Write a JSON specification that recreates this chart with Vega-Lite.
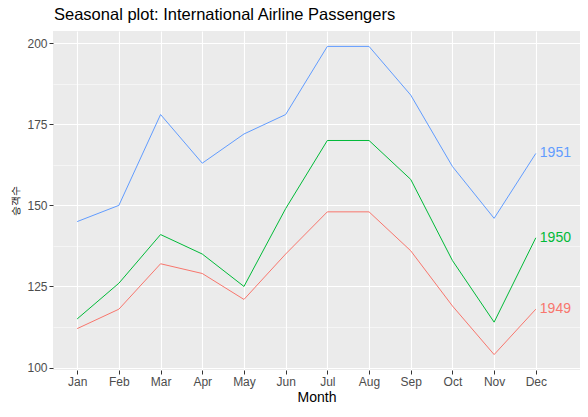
{
  "$schema": "https://vega.github.io/schema/vega-lite/v6.json",
  "width": 527,
  "height": 339,
  "autosize": {"type": "none"},
  "padding": {"left": 53, "top": 31, "right": 8, "bottom": 47},
  "title": {
    "text": "Seasonal plot: International Airline Passengers",
    "anchor": "start",
    "frame": "group",
    "fontSize": 16.5,
    "fontWeight": "normal",
    "font": "Liberation Sans",
    "color": "black",
    "offset": 8,
    "dx": 1
  },
  "data": {
    "values": [
      {"year": "1949", "month": 1, "passengers": 112},
      {"year": "1949", "month": 2, "passengers": 118},
      {"year": "1949", "month": 3, "passengers": 132},
      {"year": "1949", "month": 4, "passengers": 129},
      {"year": "1949", "month": 5, "passengers": 121},
      {"year": "1949", "month": 6, "passengers": 135},
      {"year": "1949", "month": 7, "passengers": 148},
      {"year": "1949", "month": 8, "passengers": 148},
      {"year": "1949", "month": 9, "passengers": 136},
      {"year": "1949", "month": 10, "passengers": 119},
      {"year": "1949", "month": 11, "passengers": 104},
      {"year": "1949", "month": 12, "passengers": 118},
      {"year": "1950", "month": 1, "passengers": 115},
      {"year": "1950", "month": 2, "passengers": 126},
      {"year": "1950", "month": 3, "passengers": 141},
      {"year": "1950", "month": 4, "passengers": 135},
      {"year": "1950", "month": 5, "passengers": 125},
      {"year": "1950", "month": 6, "passengers": 149},
      {"year": "1950", "month": 7, "passengers": 170},
      {"year": "1950", "month": 8, "passengers": 170},
      {"year": "1950", "month": 9, "passengers": 158},
      {"year": "1950", "month": 10, "passengers": 133},
      {"year": "1950", "month": 11, "passengers": 114},
      {"year": "1950", "month": 12, "passengers": 140},
      {"year": "1951", "month": 1, "passengers": 145},
      {"year": "1951", "month": 2, "passengers": 150},
      {"year": "1951", "month": 3, "passengers": 178},
      {"year": "1951", "month": 4, "passengers": 163},
      {"year": "1951", "month": 5, "passengers": 172},
      {"year": "1951", "month": 6, "passengers": 178},
      {"year": "1951", "month": 7, "passengers": 199},
      {"year": "1951", "month": 8, "passengers": 199},
      {"year": "1951", "month": 9, "passengers": 184},
      {"year": "1951", "month": 10, "passengers": 162},
      {"year": "1951", "month": 11, "passengers": 146},
      {"year": "1951", "month": 12, "passengers": 166}
    ]
  },
  "encoding": {
    "x": {
      "field": "month",
      "type": "quantitative",
      "scale": {"domain": [0.42, 13.06], "nice": false, "zero": false},
      "axis": {
        "title": "Month",
        "values": [1, 2, 3, 4, 5, 6, 7, 8, 9, 10, 11, 12],
        "labelExpr": "['Jan','Feb','Mar','Apr','May','Jun','Jul','Aug','Sep','Oct','Nov','Dec'][datum.value - 1]"
      }
    },
    "color": {
      "field": "year",
      "type": "nominal",
      "scale": {"domain": ["1949", "1950", "1951"], "range": ["#F8766D", "#00BA38", "#619CFF"]},
      "legend": null
    }
  },
  "layer": [
    {
      "mark": {"type": "line", "strokeWidth": 1},
      "encoding": {
        "y": {
          "field": "passengers",
          "type": "quantitative",
          "scale": {"domain": [99.25, 203.75], "nice": false, "zero": false},
          "axis": {"title": "승객수", "values": [100, 125, 150, 175, 200]}
        },
        "detail": {"field": "year"}
      }
    },
    {
      "transform": [{"filter": "datum.month == 12"}],
      "mark": {"type": "text", "align": "left", "dx": 4, "fontSize": 14, "font": "Liberation Sans"},
      "encoding": {
        "y": {
          "field": "passengers",
          "type": "quantitative",
          "axis": {
            "title": null,
            "orient": "right",
            "values": [112.5, 137.5, 162.5, 187.5],
            "labels": false,
            "ticks": false,
            "domain": false,
            "grid": true,
            "gridWidth": 0.5
          }
        },
        "text": {"field": "year"}
      }
    }
  ],
  "resolve": {"axis": {"y": "independent"}},
  "config": {
    "view": {"fill": "#EBEBEB", "stroke": null},
    "axis": {
      "grid": true,
      "gridColor": "white",
      "gridWidth": 1.1,
      "domain": false,
      "tickColor": "#333333",
      "tickSize": 4,
      "tickWidth": 1,
      "labelFont": "Liberation Sans",
      "labelFontSize": 12,
      "labelColor": "#4D4D4D",
      "labelPadding": 2,
      "titleFont": "Liberation Sans",
      "titleFontWeight": "normal",
      "titleColor": "black"
    },
    "axisX": {"titleFontSize": 14, "titlePadding": 3},
    "axisY": {"titleFontSize": 10, "titlePadding": 6}
  }
}
